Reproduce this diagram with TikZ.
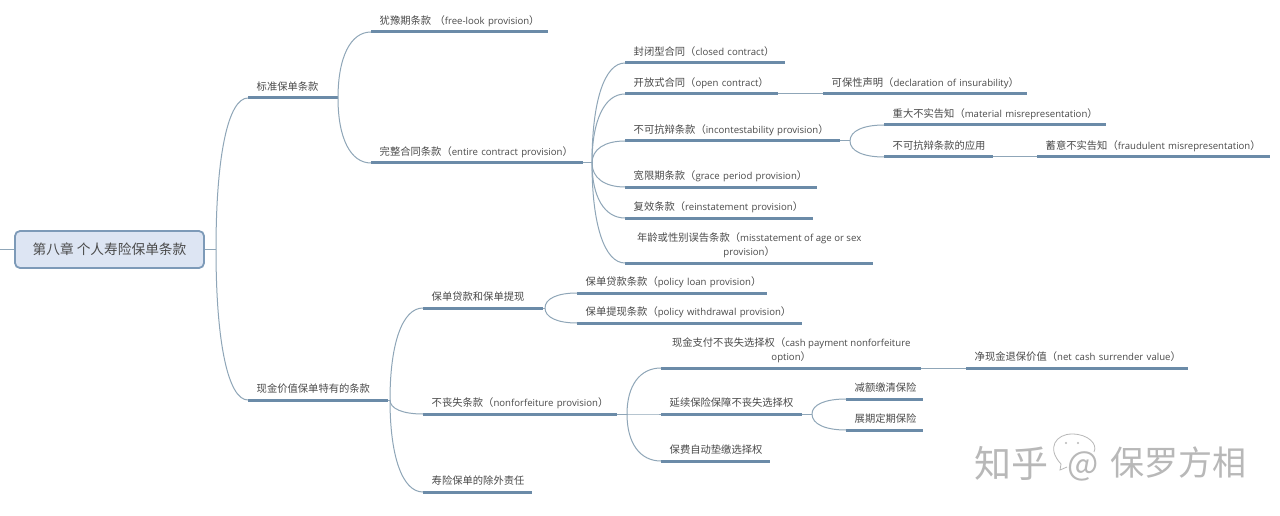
\documentclass[tikz,border=0pt]{standalone}
\usepackage{fontspec}
\usetikzlibrary{calc}
\setmainfont{Open Sans}
\newfontfamily\cjk{Noto Sans CJK SC}
\definecolor{ulc}{HTML}{6B8BA8}
\definecolor{conc}{HTML}{8FA6B8}
\definecolor{txt}{HTML}{4A4A4A}
\definecolor{rootf}{HTML}{DDE5F3}
\definecolor{rootd}{HTML}{7D9AB8}
\definecolor{wm}{HTML}{B8B8B8}
\newcommand\zh[1]{{\cjk\fontsize{10.3pt}{14pt}\selectfont #1}}
\newcommand\la[1]{{\fontsize{9.6pt}{14pt}\selectfont #1}}
% \topic{name}{x0}{x1}{y}{text}
\newcommand\topic[5]{%
  \pgfmathsetmacro\tw{#3-#2-17}%
  \node[lab,text width=\tw pt] (#1) at (#2,#4) {\mbox{#5}};
  \draw[ul] (#1.south west) -- (#1.south east);}
\newcommand\topicc[5]{%
  \pgfmathsetmacro\tw{#3-#2}%
  \node[labc,minimum width=\tw pt] (#1) at (#2,#4) {#5};
  \draw[ul] (#1.south west) -- (#1.south east);}
\newcommand\bend[2]{\draw[conn] (#1) .. controls ($(#1)!0.62!(#1 |- #2.south west)$) and ($(#2.south west)!0.62!(#1 |- #2.south west)$) .. (#2.south west);}
\begin{document}
\begin{tikzpicture}[x=1pt,y=-1pt,
  lab/.style={anchor=south west,inner xsep=8.5pt,inner ysep=0pt,text=txt,align=left,
    text depth=7.5pt,text height=10pt},
  labc/.style={anchor=south west,inner sep=0pt,text=txt,align=center,text depth=7.5pt},
  ul/.style={draw=ulc,line width=3pt},
  conn/.style={draw=conc,line width=1pt},
  rootn/.style={draw=rootd,fill=rootf,line width=1.8pt,rounded corners=5pt,text=txt,
    minimum width=189pt,minimum height=37pt,inner sep=0pt},
  wmark/.style={text=wm,inner sep=0pt,font=\cjk}]
\useasboundingbox (0,0) rectangle (1280,516);
\fill[white] (0,0) rectangle (1280,516);
% root
\node[rootn] (root) at (109.5,249.5) {{\cjk\fontsize{13.7pt}{16pt}\selectfont 第八章 个人寿险保单条款}};
\coordinate (rootl) at (0,249.5);
\coordinate (b0) at (216,249.5);
\draw[conn] (rootl) -- (root.west);
\draw[conn] (root.east) -- (b0);
% level 1
\topic{std}{248}{338}{98}{\zh{标准保单条款}}
\topic{cash}{248}{388}{400}{\zh{现金价值保单特有的条款}}
\bend{b0}{std}
\bend{b0}{cash}
% standard
\topic{free}{371}{548}{32}{\zh{犹豫期条款\ （}\la{free-look provision}\zh{）}}
\topic{entire}{371}{583}{163}{\zh{完整合同条款（}\la{entire contract provision}\zh{）}}
\coordinate (b1) at (338,98);
\bend{b1}{free}
\bend{b1}{entire}
% entire contract
\coordinate (b2) at (592,163);
\draw[conn] (entire.south east) -- (b2);
\topic{closed}{625}{785}{63}{\zh{封闭型合同（}\la{closed contract}\zh{）}}
\topic{open}{625}{778}{94}{\zh{开放式合同（}\la{open contract}\zh{）}}
\topic{incon}{625}{840}{141}{\zh{不可抗辩条款（}\la{incontestability provision}\zh{）}}
\topic{grace}{625}{817}{187}{\zh{宽限期条款（}\la{grace period provision}\zh{）}}
\topic{rein}{625}{813}{218}{\zh{复效条款（}\la{reinstatement provision}\zh{）}}
\topicc{age}{625}{873}{263}{\zh{年龄或性别误告条款（}\la{misstatement of age or sex}\\[1.5pt]\la{provision}\zh{）}}
\foreach \c in {closed,open,incon,grace,rein,age}{\bend{b2}{\c}}
\topic{decl}{823}{1027}{94}{\zh{可保性声明（}\la{declaration of insurability}\zh{）}}
\draw[conn] (open.south east) -- (decl.south west);
\coordinate (b3) at (850,141);
\draw[conn] (incon.south east) -- (b3);
\topic{mat}{884}{1106}{125}{\zh{重大不实告知（}\la{material misrepresentation}\zh{）}}
\topic{appl}{884}{993}{157}{\zh{不可抗辩条款的应用}}
\bend{b3}{mat}
\bend{b3}{appl}
\topic{fraud}{1037}{1270}{157}{\zh{蓄意不实告知（}\la{fraudulent misrepresentation}\zh{）}}
\draw[conn] (appl.south east) -- (fraud.south west);
% cash value
\coordinate (b4) at (390,400);
\draw[conn] (cash.south east) -- (b4);
\topic{loanw}{423}{543}{308}{\zh{保单贷款和保单提现}}
\topic{nonf}{423}{617}{414}{\zh{不丧失条款（}\la{nonforfeiture provision}\zh{）}}
\topic{excl}{423}{532}{492}{\zh{寿险保单的除外责任}}
\foreach \c in {loanw,nonf,excl}{\bend{b4}{\c}}
\coordinate (b5) at (545,308);
\draw[conn] (loanw.south east) -- (b5);
\topic{loan}{577}{767}{293}{\zh{保单贷款条款（}\la{policy loan provision}\zh{）}}
\topic{withd}{577}{802}{323}{\zh{保单提现条款（}\la{policy withdrawal provision}\zh{）}}
\bend{b5}{loan}
\bend{b5}{withd}
\coordinate (b6) at (627,414);
\draw[conn] (nonf.south east) -- (b6);
\topicc{cpay}{661}{921}{368}{\zh{现金支付不丧失选择权（}\la{cash payment nonforfeiture}\\[1.5pt]\la{option}\zh{）}}
\topic{ext}{661}{802}{414}{\zh{延续保险保障不丧失选择权}}
\topic{apl}{661}{770}{461}{\zh{保费自动垫缴选择权}}
\foreach \c in {cpay,ext,apl}{\bend{b6}{\c}}
\topic{ncsv}{966}{1188}{368}{\zh{净现金退保价值（}\la{net cash surrender value}\zh{）}}
\draw[conn] (cpay.south east) -- (ncsv.south west);
\coordinate (b7) at (812,414);
\draw[conn] (ext.south east) -- (b7);
\topic{red}{846}{923}{399}{\zh{减额缴清保险}}
\topic{term}{846}{923}{430}{\zh{展期定期保险}}
\bend{b7}{red}
\bend{b7}{term}
% watermark
\node[wmark,anchor=west] (wm1) at (974,463) {\fontsize{37pt}{40pt}\selectfont 知乎};
\node[wmark,anchor=west] (wm2) at (1067,466) {\fontsize{33pt}{40pt}\selectfont @};
\node[wmark,anchor=west] (wm3) at (1110,463) {\fontsize{34pt}{40pt}\selectfont 保罗方相};
\draw[wm,line width=0.8pt] (1061,464) .. controls (1046,448) and (1056,434) .. (1072,434) .. controls (1088,434) and (1098,444) .. (1094,452);
\draw[wm,line width=0.8pt] (1061,464) -- (1060,470) -- (1067,467);
\fill[wm] (1066,443) circle (1.1pt) (1078,443) circle (1.1pt);
\end{tikzpicture}
\end{document}
